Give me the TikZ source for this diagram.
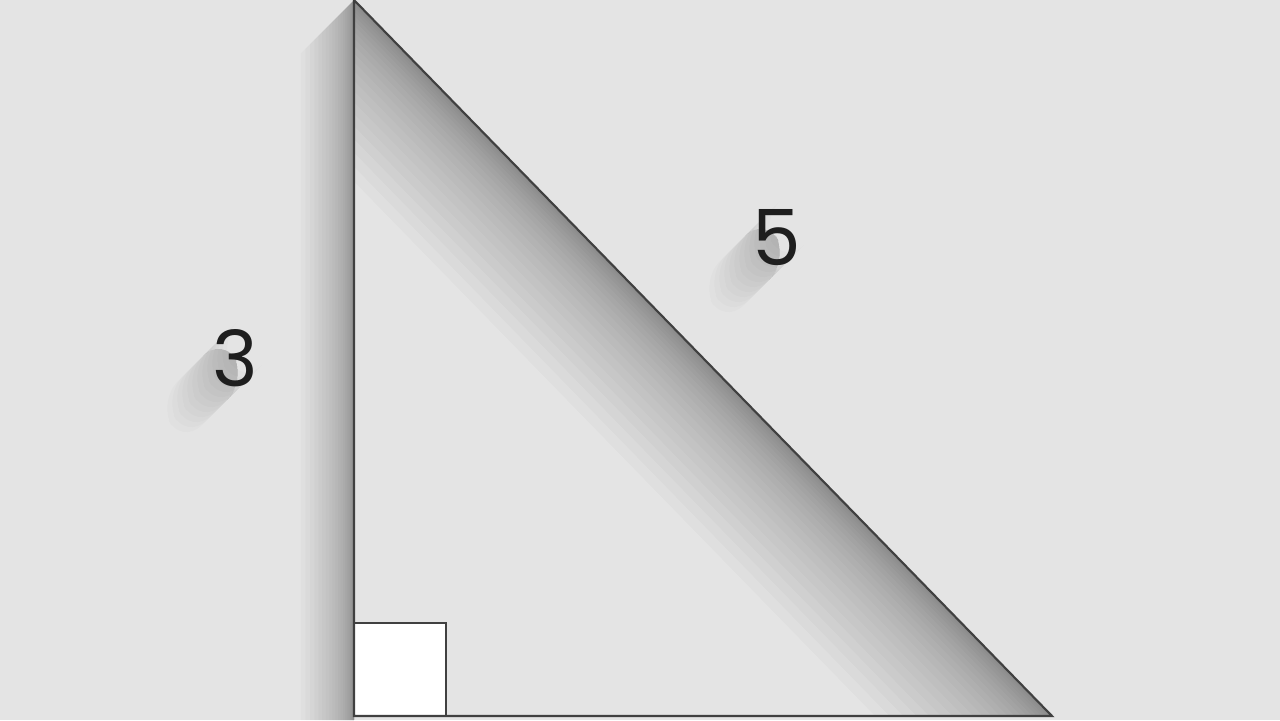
\documentclass[tikz,border=0pt]{standalone}
\usepackage{fontspec}
\setmainfont{Poppins}
\usetikzlibrary{calc, positioning}
\definecolor{paper}{HTML}{E4E4E4}
\definecolor{ink}{HTML}{1E1E1E}
\tikzstyle{side} = [draw=ink!85, line width=0.6pt]
\tikzstyle{sidenum} = [font=\fontsize{22}{22}\selectfont, text=ink, inner sep=0pt]
\tikzstyle{shadowband} = [fill=black, opacity=0.02]
\tikzstyle{numshadow} = [fill=black, opacity=0.016, rounded corners=8]

\begin{document}
\begin{tikzpicture}[x=0.01cm, y=0.01cm]
	\fill[paper] (0,0) rectangle (1280,720);
	\useasboundingbox (0,0) rectangle (1280,720);
	\coordinate (Top) at (354,720);
	\coordinate (Corner) at (354,4);
	\coordinate (Right) at (1052,4);
	% shadow left of the upright side
	\foreach \i in {1,...,22} {
		\pgfmathsetmacro{\d}{0.11*\i*\i}
		\fill[shadowband] (Top) -- ($(Top)+(-\d,-\d)$) -- ($(Corner)+(-\d,-4)$) -- ($(Corner)+(0,-4)$) -- cycle;
	}
	% shadow inside, along the long side
	\begin{scope}
		\clip (Top) -- (Corner) -- (Right) -- cycle;
		\foreach \i in {1,...,24} {
			\pgfmathsetmacro{\d}{0.22*\i*\i}
			\fill[shadowband] (Top) -- (Right) -- ($(Right)+\d*(-0.716,-0.698)$) -- ($(Top)+\d*(-0.716,-0.698)$) -- cycle;
		}
	\end{scope}
	\draw[side, fill=white] (Corner) rectangle ++(92,93);
	\draw[side] (Top) -- (Corner) -- (Right) -- cycle;
	% side lengths
	\coordinate (Num3) at (235,362);
	\coordinate (Num5) at (777,482);
	\foreach \n in {Num3, Num5}
		\foreach \l in {5,10,...,65}
			\fill[numshadow] ($(\n)+(-12,22)$) -- ($(\n)+(12,-22)$) -- ($(\n)+(12-\l,-22-\l)$) -- ($(\n)+(-12-\l,22-\l)$) -- cycle;
	\node (Three) [sidenum] at (Num3) {3};
	\node (Five) [sidenum] at (Num5) {5};
\end{tikzpicture}
\end{document}
